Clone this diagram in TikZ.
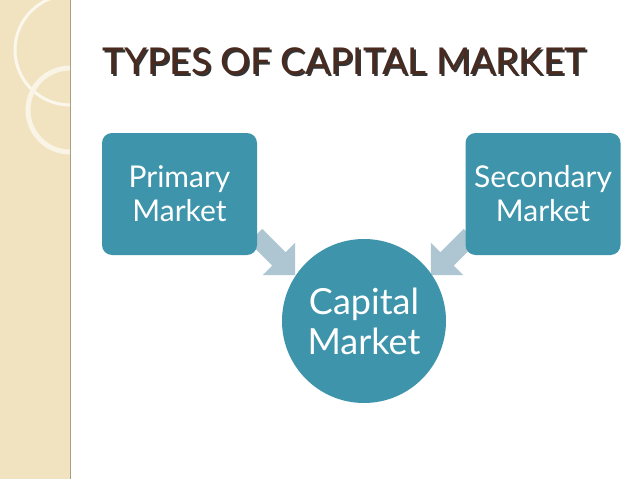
\documentclass[tikz,border=0pt]{standalone}
\usepackage{fontspec}
\setmainfont{Lato}
\usetikzlibrary{shapes.arrows}
\definecolor{teal1}{HTML}{3D94AB}
\definecolor{arr}{HTML}{AEC6D2}
\definecolor{beige}{HTML}{F1E3C0}
\definecolor{brown1}{HTML}{4A2A1E}
\tikzset{box/.style={fill=teal1,rounded corners=10pt,minimum width=155pt,minimum height=122pt,inner sep=0pt,align=center,text=white,font=\fontsize{30}{34}\selectfont},
barrow/.style={single arrow,fill=arr,minimum height=56pt,minimum width=46pt,single arrow head extend=6pt,inner sep=4pt}}
\begin{document}
\begin{tikzpicture}[x=1pt,y=-1pt]
\useasboundingbox (0,0) rectangle (638,479);
\fill[white] (0,0) rectangle (638,479);
\fill[beige] (0,0) rectangle (70,479);
\begin{scope}
\clip (0,0) rectangle (70,479);
\draw[white!70!beige,line width=3pt] (70,50) circle (55);
\draw[white!60!beige,line width=5pt] (70,110) circle (42);
\end{scope}
\draw[beige!70!black,line width=0.8pt] (70.5,0) -- (70.5,479);
\node[font=\fontsize{37}{42}\selectfont,text=black!80] at (346.5,63.5) {TYPES OF CAPITAL MARKET};
\node (title) [font=\fontsize{37}{42}\selectfont,text=brown1] at (344.5,61.5) {TYPES OF CAPITAL MARKET};
\node[barrow,rotate=-45] (la) at (272,252) {};
\node[barrow,rotate=225] (ra) at (454,252) {};
\node[box] (p) at (179.5,194) {Primary\\Market};
\node[box] (s) at (543,194) {Secondary\\Market};
\node[circle,fill=teal1,minimum size=164pt,inner sep=0pt,align=center,text=white,font=\fontsize{36}{40}\selectfont] (c) at (364,321) {Capital\\Market};
\end{tikzpicture}
\end{document}
